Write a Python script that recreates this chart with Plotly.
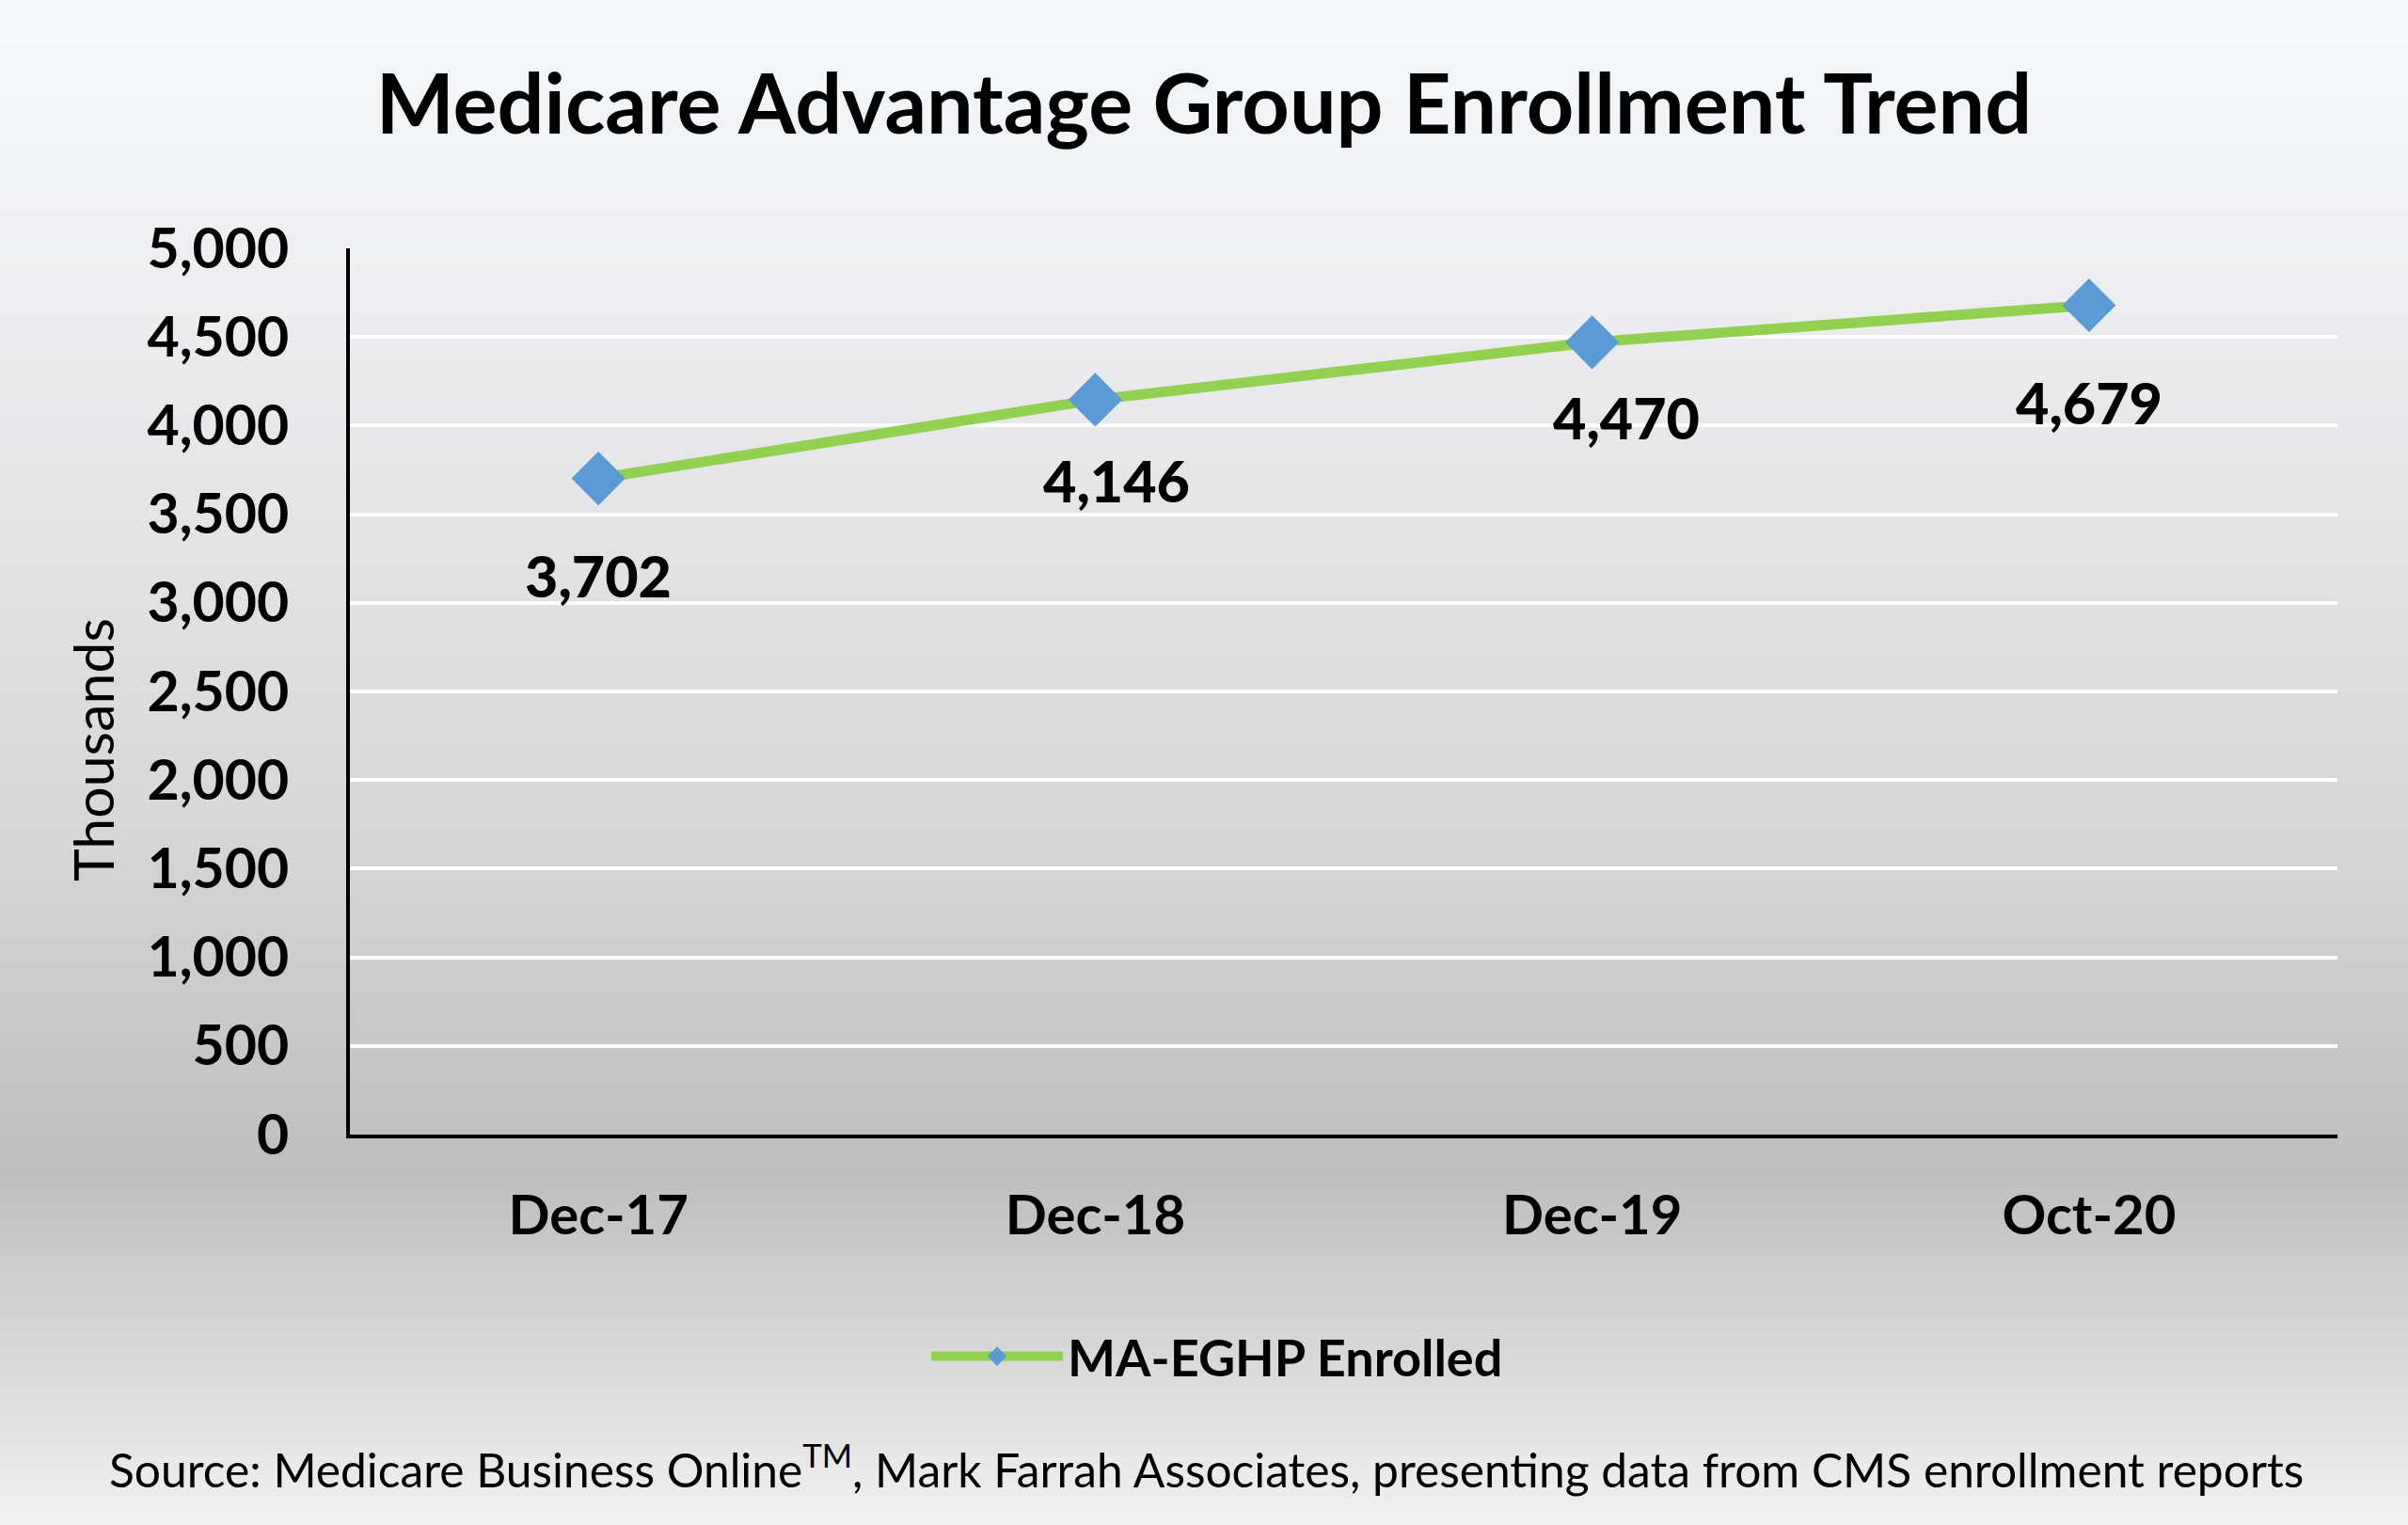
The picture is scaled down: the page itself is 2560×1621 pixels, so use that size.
import plotly.graph_objects as go

# ---- data ----
categories = ["Dec-17", "Dec-18", "Dec-19", "Oct-20"]
enrolled = [3702, 4146, 4470, 4679]
value_labels = ["3,702", "4,146", "4,470", "4,679"]
y_ticks = [0, 500, 1000, 1500, 2000, 2500, 3000, 3500, 4000, 4500, 5000]
y_tick_labels = ["0", "500", "1,000", "1,500", "2,000", "2,500", "3,000",
                 "3,500", "4,000", "4,500", "5,000"]
series_name = "MA-EGHP Enrolled"
title_text = "Medicare Advantage Group Enrollment Trend"
source_text = ("Source: Medicare Business Online<sup>TM</sup>, Mark Farrah Associates, "
               "presenting data from CMS enrollment reports")

# ---- style ----
W, H = 2560, 1621
ML, MR, MT, MB = 372, 75, 264, 415
FONT = "Lato"
GREEN = "#92D050"
BLUE = "#5B9BD5"
label_shift_x = [0, 23, 36, 0]
label_shift_y = [-103, -86, -80, -103]

pw = W - ML - MR
ph = H - MT - MB

# background vertical gradient (stops: fraction from top, rgb)
stops = [(0.0, (246, 249, 252)), (0.35, (227, 228, 230)), (0.55, (214, 214, 214)),
         (0.77, (190, 190, 190)), (1.0, (241, 241, 241))]


def grad(f):
    for (f0, c0), (f1, c1) in zip(stops[:-1], stops[1:]):
        if f0 <= f <= f1:
            t = (f - f0) / (f1 - f0)
            return tuple(round(a + (b - a) * t) for a, b in zip(c0, c1))
    return stops[-1][1]


shapes = []
nb = 200
for i in range(nb):
    top = i / nb
    bot = (i + 1) / nb
    c = grad((top + bot) / 2)
    y1 = (H - MB - top * H) / ph
    y0 = (H - MB - min(1.0, bot + 0.002) * H) / ph
    shapes.append(dict(type="rect", xref="paper", yref="paper",
                       x0=-ML / pw, x1=(W - ML) / pw, y0=y0, y1=y1,
                       fillcolor="rgb(%d,%d,%d)" % c, line=dict(width=0),
                       layer="below"))

fig = go.Figure()
fig.add_trace(go.Scatter(
    x=categories, y=enrolled, name=series_name, mode="lines+markers",
    line=dict(color=GREEN, width=11),
    marker=dict(symbol="diamond", size=44, color=BLUE, line=dict(width=0)),
    showlegend=True,
))

annotations = []
for c, v, t, dx, dy in zip(categories, enrolled, value_labels, label_shift_x, label_shift_y):
    annotations.append(dict(x=c, y=v, xref="x", yref="y", text=t,
                            showarrow=False, xshift=dx, yshift=dy,
                            xanchor="center", yanchor="middle",
                            font=dict(family=FONT, size=61, color="black", weight=900)))

annotations.append(dict(text="Thousands", textangle=-90, xref="paper", yref="paper",
                        x=(98 - ML) / pw, y=(H - MB - 797) / ph, showarrow=False,
                        xanchor="center", yanchor="middle",
                        font=dict(family=FONT, size=59, color="black")))
annotations.append(dict(text=source_text, xref="paper", yref="paper",
                        x=(1282 - ML) / pw, y=(H - MB - 1559) / ph, showarrow=False,
                        xanchor="center", yanchor="middle",
                        font=dict(family=FONT, size=49.7, color="black")))

fig.update_layout(
    width=W, height=H,
    margin=dict(l=ML, r=MR, t=MT, b=MB, autoexpand=False),
    paper_bgcolor="#e6e6e6",
    plot_bgcolor="rgba(0,0,0,0)",
    shapes=shapes,
    annotations=annotations,
    title=dict(text="<b>%s</b>" % title_text, x=0.5, xref="container", xanchor="center",
               y=1 - 111 / H, yref="container", yanchor="middle",
               font=dict(family=FONT, size=88, color="black")),
    showlegend=True,
    legend=dict(orientation="h", x=(1294 - ML) / pw, xanchor="center",
                y=(H - MB - 1442) / ph, yanchor="middle",
                bgcolor="rgba(0,0,0,0)", itemwidth=140,
                font=dict(family=FONT, size=54, color="black", weight="bold")),
    font=dict(family=FONT, color="black"),
)

fig.update_xaxes(
    type="category", range=[-0.5, 3.5], showgrid=False,
    showline=True, linecolor="black", linewidth=4, zeroline=False,
    ticks="", ticklabelstandoff=32,
    tickfont=dict(family=FONT, size=58, color="black", weight="bold"),
)
fig.update_yaxes(
    range=[0, 5000], tickvals=y_ticks, ticktext=y_tick_labels,
    showgrid=True, gridcolor="white", gridwidth=4, zeroline=False,
    showline=True, linecolor="black", linewidth=4,
    ticks="", ticklabelstandoff=49,
    tickfont=dict(family=FONT, size=59, color="black", weight="bold"),
)

fig.write_html("out.html",
               config={"displayModeBar": False},
               post_script="document.body.style.margin='0';"
                           "document.body.style.overflow='hidden';")
